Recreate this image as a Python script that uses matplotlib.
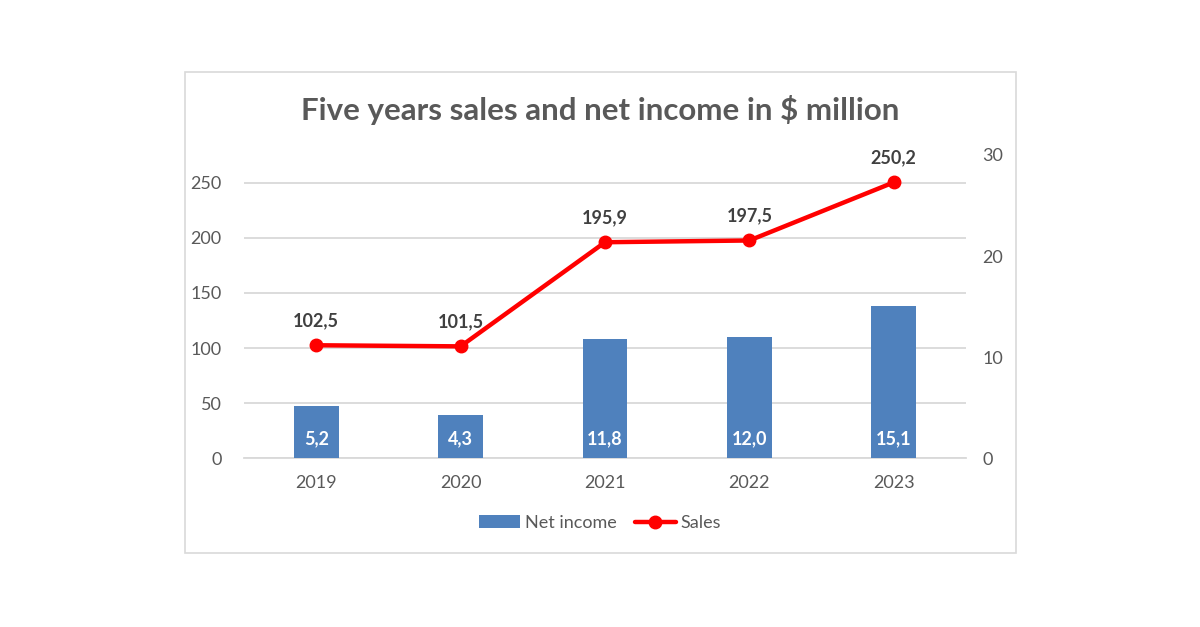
import matplotlib.pyplot as plt
from matplotlib.patches import Rectangle

plt.rcParams['font.family'] = ['Lato', 'DejaVu Sans']

years = ['2019', '2020', '2021', '2022', '2023']
sales = [102.5, 101.5, 195.9, 197.5, 250.2]
net_income = [5.2, 4.3, 11.8, 12.0, 15.1]

def fmt(v):
    return f'{v:.1f}'.replace('.', ',')

fig = plt.figure(figsize=(12, 6.27), dpi=100)
# chart border
fig.patches.append(Rectangle((185 / 1200, 1 - 553 / 627), 831 / 1200, 481 / 627,
                             transform=fig.transFigure, fill=False,
                             edgecolor='#d9d9d9', linewidth=1.2))

ax = fig.add_axes([244 / 1200, 1 - 458.3 / 627, 722 / 1200, 303.3 / 627])
ax2 = ax.twinx()

x = list(range(len(years)))

# sales line on left axis
ax.plot(x, sales, color='#ff0000', linewidth=3.2, marker='o', markersize=9,
        label='Sales', solid_capstyle='round')
for xi, v in zip(x, sales):
    ax.annotate(fmt(v), (xi, v), xytext=(0, 17.5), textcoords='offset points',
                ha='center', va='center', fontsize=13, fontweight='bold', color='#404040')
ax.set_ylim(0, 275)
ax.set_yticks([0, 50, 100, 150, 200, 250])
ax.set_xlim(-0.5, 4.5)
ax.set_xticks(x)
ax.set_xticklabels(years)
ax.grid(axis='y', color='#d9d9d9', linewidth=1.3)
ax.set_axisbelow(True)

# net income bars on right axis
ax2.bar(x, net_income, width=0.31, color='#4f81bd', label='Net income')
for xi, v in zip(x, net_income):
    ax2.annotate(fmt(v), (xi, 0), xytext=(0, 14), textcoords='offset points',
                 ha='center', va='center', fontsize=13, fontweight='bold', color='white')
ax2.set_ylim(0, 30)
ax2.set_yticks([0, 10, 20, 30])

for a in (ax, ax2):
    for s in a.spines.values():
        s.set_visible(False)
    a.tick_params(length=0, labelsize=13, labelcolor='#595959')
ax.tick_params(axis='y', pad=16)
ax.tick_params(axis='x', pad=12)
ax2.tick_params(axis='y', pad=12)
ax.spines['bottom'].set_visible(True)
ax.spines['bottom'].set_color('#d9d9d9')
ax.spines['bottom'].set_linewidth(1.3)

fig.text(0.5, 1 - 110 / 627, 'Five years sales and net income in $ million',
         ha='center', va='center', fontsize=22.5, fontweight='bold', color='#595959')

h1, l1 = ax2.get_legend_handles_labels()
h2, l2 = ax.get_legend_handles_labels()
fig.legend(h1 + h2, l1 + l2, loc='center', bbox_to_anchor=(0.5, 1 - 523 / 627),
           ncol=2, frameon=False, fontsize=13, labelcolor='#595959',
           handlelength=2.3, handletextpad=0.25, columnspacing=1.0)

fig.savefig('out.png', dpi=100)
